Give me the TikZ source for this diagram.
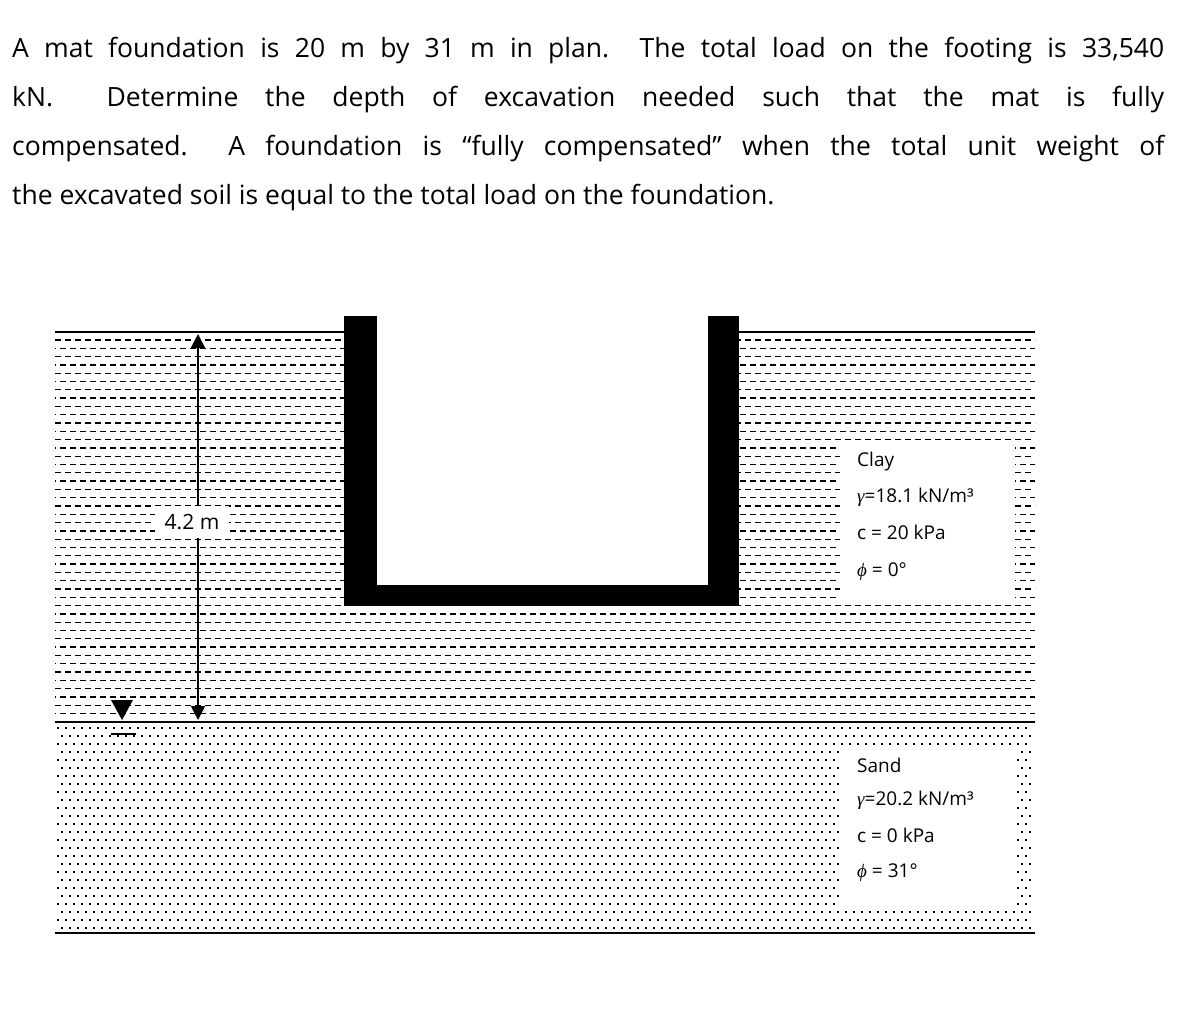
\documentclass[tikz,border=0pt]{standalone}
\usepackage{fontspec}
\setmainfont{Open Sans}
\newfontfamily\serifg{Liberation Serif}
\usetikzlibrary{arrows.meta}
\begin{document}
\begin{tikzpicture}[x=1pt,y=-1pt,
  lbl/.style={font=\fontsize{19}{22}\selectfont,anchor=west,inner sep=0},
  grnd/.style={line width=2.2pt}]
\useasboundingbox (0,0) rectangle (1201,1009);
\node[anchor=north west,text width=1152pt,align=justify,inner sep=0,font=\fontsize{26.5}{49}\selectfont] (txt) at (12,37)
{\hyphenpenalty=10000\relax A mat foundation is 20 m by 31 m in plan.\ \ The total load on the footing is 33,540\linebreak kN.\ \ Determine the depth of excavation needed such that the mat is fully\linebreak compensated.\ \ A foundation is “fully compensated” when the total unit weight of\linebreak the excavated soil is equal to the total load on the foundation.};
% clay dashes
\foreach \i in {0,...,46} {
  \pgfmathsetmacro{\yy}{340+8.3*\i}
  \pgfmathsetmacro{\off}{mod(\i,2)==0?0:5}
  \draw[line width=1.3pt,dash pattern=on 6pt off 4pt,dash phase=\off] (55,\yy) -- (1035,\yy);
}
% sand dots
\foreach \j in {0,...,25} {
  \pgfmathsetmacro{\yy}{727+8*\j}
  \pgfmathsetmacro{\xo}{mod(\j,2)==0?57:61}
  \foreach \k in {0,...,121} {
    \fill (\xo+8*\k,\yy) rectangle ++(1.8,1.8);
  }
}
% footing
\fill[white] (344,316) rectangle (739,606);
\fill[black] (344,316) rectangle (377,606);
\fill[black] (708,316) rectangle (739,606);
\fill[black] (344,585) rectangle (739,606);
% ground lines
\coordinate (gl1) at (55,332); \coordinate (gl2) at (344,332);
\coordinate (gr1) at (739,332); \coordinate (gr2) at (1035,332);
\draw[grnd] (gl1) -- (gl2); \draw[grnd] (gr1) -- (gr2);
\coordinate (s1) at (55,722); \coordinate (s2) at (1035,722);
\draw[grnd] (s1) -- (s2);
\coordinate (b1) at (55,933); \coordinate (b2) at (1035,933);
\draw[grnd] (b1) -- (b2);
% dimension
\coordinate (dt) at (198,334); \coordinate (db) at (198,720);
\draw[line width=1.6pt,-{Triangle[length=14pt,width=14pt]}] (198,522) -- (dt);
\draw[line width=1.6pt,-{Triangle[length=14pt,width=14pt]}] (198,522) -- (db);
\node[fill=white,font=\fontsize{21}{24}\selectfont,inner xsep=10pt,inner ysep=8pt] (dim) at (192,522) {4.2 m};
% water table
\fill (111,700) -- (133,700) -- (122,720) -- cycle;
\draw[line width=1.5pt] (111,734) -- (136,734);
% clay box
\fill[white] (840,440) rectangle (1015,600);
\node[lbl] (c1) at (857,462) {Clay};
\node[lbl] (c2) at (857,497) {{\serifg\itshape γ}=18.1 kN/m³};
\node[lbl] (c3) at (857,532) {c = 20 kPa};
\node[lbl] (c4) at (857,572) {{\serifg\itshape ϕ} = 0°};
% sand box
\fill[white] (840,745) rectangle (1015,910);
\node[lbl] (s1t) at (857,765) {Sand};
\node[lbl] (s2t) at (857,800) {{\serifg\itshape γ}=20.2 kN/m³};
\node[lbl] (s3t) at (857,835) {c = 0 kPa};
\node[lbl] (s4t) at (857,873) {{\serifg\itshape ϕ} = 31°};
\end{tikzpicture}
\end{document}
